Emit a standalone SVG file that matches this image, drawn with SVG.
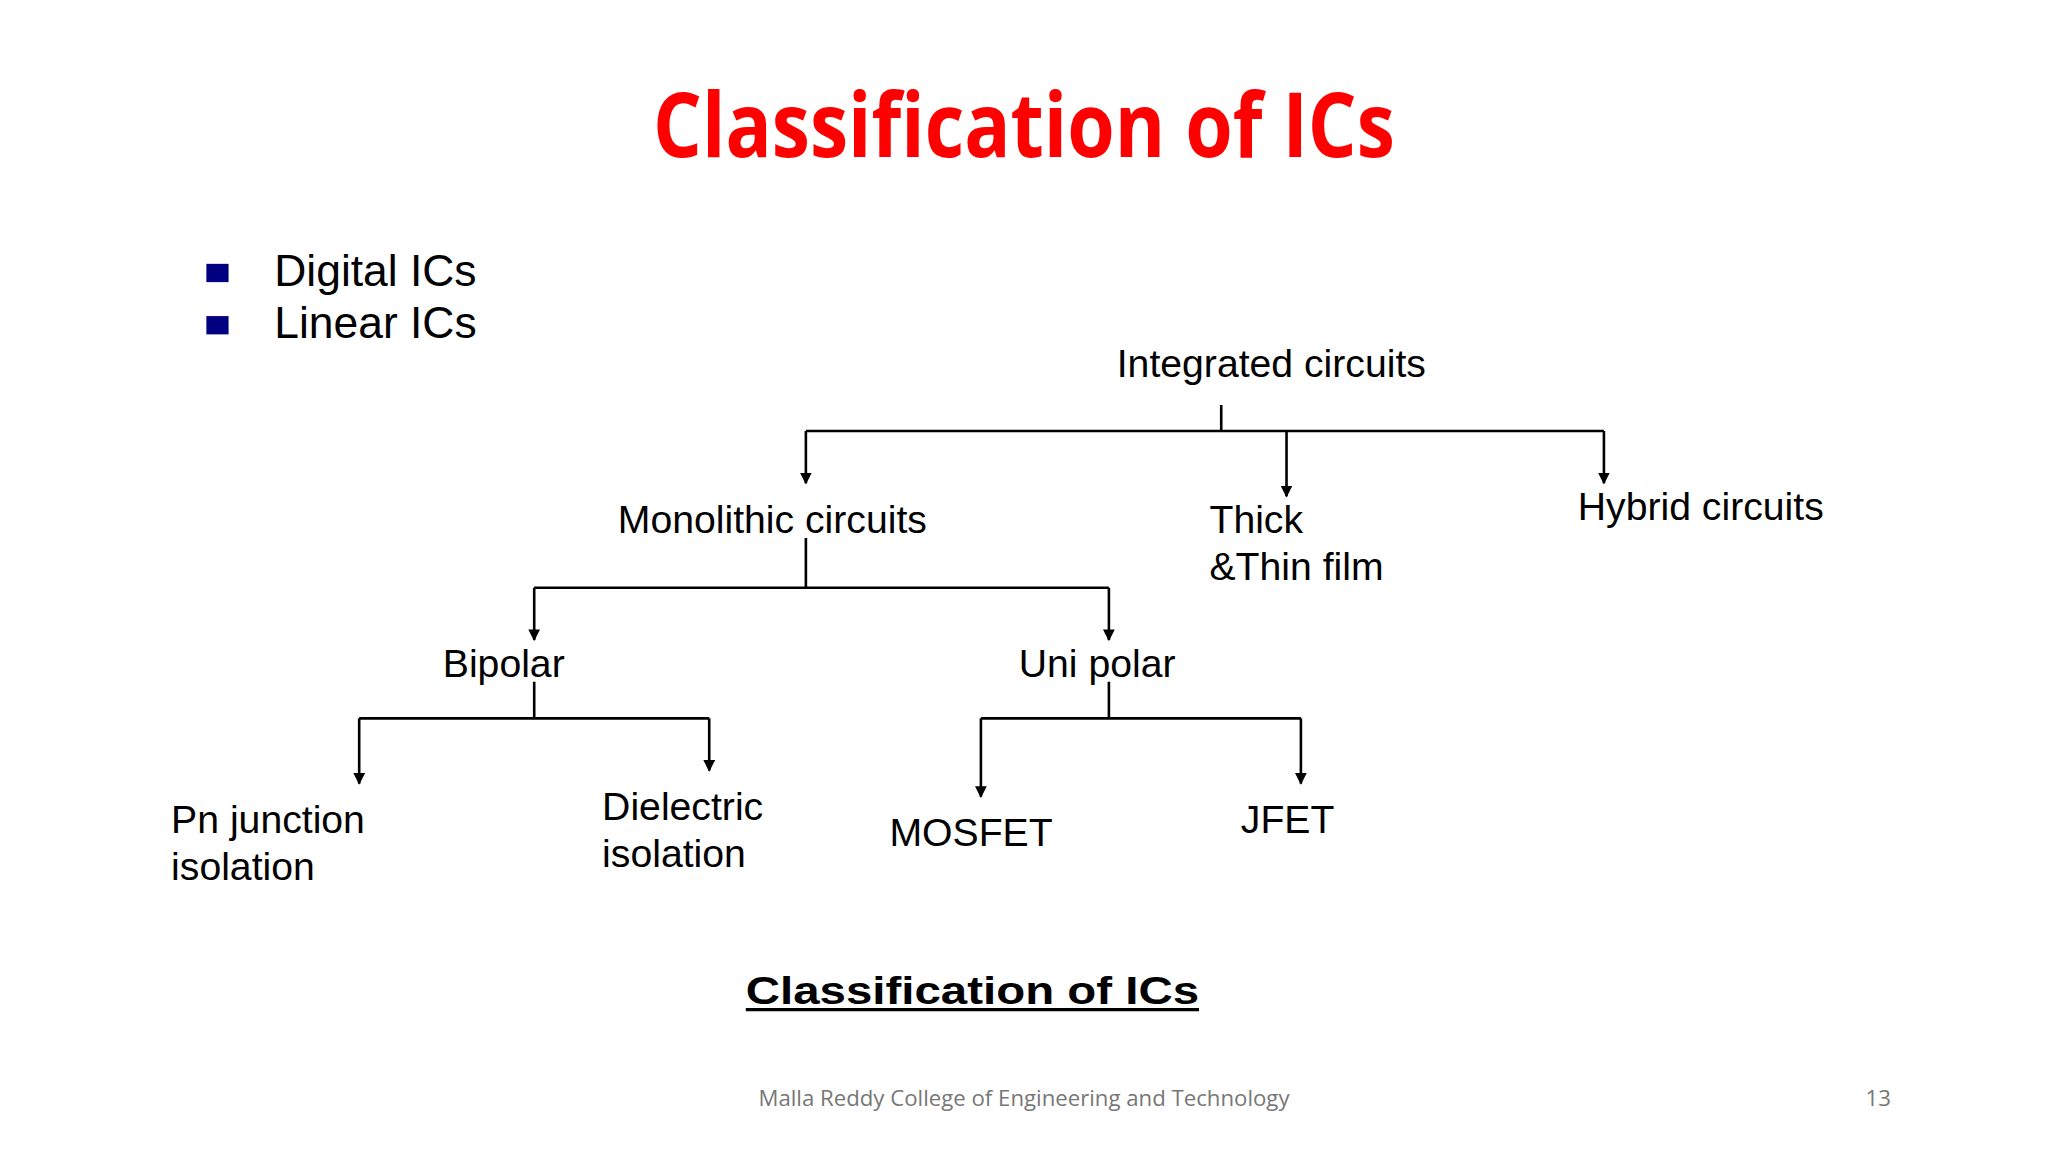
<svg xmlns="http://www.w3.org/2000/svg" width="2048" height="1152" viewBox="0 0 2048 1152">
<defs>
<marker id="ah" viewBox="0 0 10 10" refX="9" refY="5" markerWidth="4.5" markerHeight="4.5" orient="auto"><path d="M0,0 L10,5 L0,10 z" fill="#000"/></marker>
<style>
.t{font-family:"Liberation Sans",Arial,sans-serif;font-size:30px;fill:#000}
.b{font-family:"Liberation Sans",Arial,sans-serif;font-size:34px;fill:#000}
.c{stroke:#000;stroke-width:2;fill:none}
.a{stroke:#000;stroke-width:2;fill:none;marker-end:url(#ah)}
</style>
</defs>
<rect width="2048" height="1152" fill="#fff"/>
<g transform="scale(1.30612)">
<g id="title"><text x="784" y="120" text-anchor="middle" font-family="'Open Sans','Liberation Sans',sans-serif" font-weight="bold" font-size="68" fill="#ff0000" textLength="568" lengthAdjust="spacingAndGlyphs">Classification of ICs</text></g>
<g id="bullets">
<rect x="158" y="202" width="17" height="14" fill="#000080"/>
<rect x="158" y="242" width="17" height="14" fill="#000080"/>
<text class="b" x="210" y="219">Digital ICs</text>
<text class="b" x="210" y="259">Linear ICs</text>
</g>
<g id="connectors">
<path class="c" d="M935,310 V330 M617,330 H1228 M617,412 V450 M409,450 H849 M409,522 V550 M275,550 H543 M849,522 V550 M751,550 H996"/>
<path class="a" d="M617,330 V370"/><path class="a" d="M985,330 V380"/><path class="a" d="M1228,330 V370"/>
<path class="a" d="M409,450 V490"/><path class="a" d="M849,450 V490"/>
<path class="a" d="M275,550 V600"/><path class="a" d="M543,550 V590"/>
<path class="a" d="M751,550 V610"/><path class="a" d="M996,550 V600"/>
</g>
<g id="n-ic"><text class="t" x="855" y="289">Integrated circuits</text></g>
<g id="n-mono"><text class="t" x="473" y="408">Monolithic circuits</text></g>
<g id="n-thick"><text class="t" x="926" y="408">Thick</text><text class="t" x="926" y="444">&amp;Thin film</text></g>
<g id="n-hybrid"><text class="t" x="1208" y="398">Hybrid circuits</text></g>
<g id="n-bipolar"><text class="t" x="339" y="518">Bipolar</text></g>
<g id="n-uni"><text class="t" x="780" y="518">Uni polar</text></g>
<g id="n-pn"><text class="t" x="131" y="638">Pn junction</text><text class="t" x="131" y="674">isolation</text></g>
<g id="n-diel"><text class="t" x="461" y="628">Dielectric</text><text class="t" x="461" y="664">isolation</text></g>
<g id="n-mosfet"><text class="t" x="681" y="648">MOSFET</text></g>
<g id="n-jfet"><text class="t" x="950" y="638">JFET</text></g>
<g id="caption"><text x="571" y="769" font-family="'Liberation Sans',Arial,sans-serif" font-weight="bold" font-size="30" textLength="347" lengthAdjust="spacingAndGlyphs">Classification of ICs</text>
<line x1="571" y1="773" x2="918" y2="773" stroke="#000" stroke-width="2.5"/></g>
<g id="footer">
<text x="784" y="847" text-anchor="middle" font-family="'Open Sans','Liberation Sans',sans-serif" font-size="17" fill="#777">Malla Reddy College of Engineering and Technology</text>
<text x="1438" y="847" text-anchor="middle" font-family="'Open Sans','Liberation Sans',sans-serif" font-size="17" fill="#777">13</text>
</g>
</g>
</svg>
